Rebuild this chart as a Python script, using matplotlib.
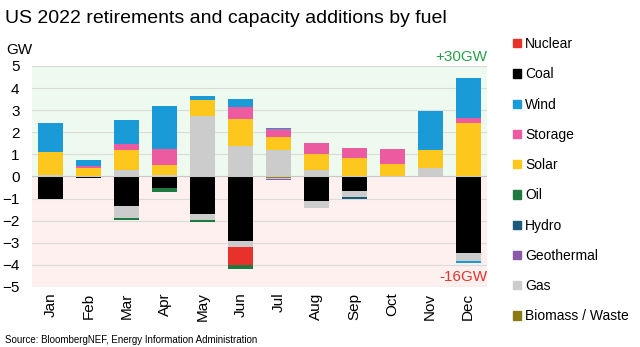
import numpy as np
import matplotlib
matplotlib.use('Agg')
import matplotlib.pyplot as plt
from matplotlib.patches import Rectangle

plt.rcParams['font.family'] = ['Liberation Sans', 'DejaVu Sans']

months = ['Jan', 'Feb', 'Mar', 'Apr', 'May', 'Jun',
          'Jul', 'Aug', 'Sep', 'Oct', 'Nov', 'Dec']

# capacity additions (GW), stacked upward in this order
add_gas     = [0.05, 0.00, 0.27, 0.05, 2.72, 1.40, 1.20, 0.27, 0.00, 0.03, 0.38, 0.00]
add_solar   = [1.05, 0.40, 0.93, 0.45, 0.72, 1.22, 0.60, 0.73, 0.83, 0.53, 0.83, 2.42]
add_storage = [0.00, 0.08, 0.25, 0.75, 0.00, 0.52, 0.36, 0.53, 0.47, 0.68, 0.00, 0.24]
add_wind    = [1.30, 0.25, 1.12, 1.92, 0.22, 0.38, 0.05, 0.00, 0.00, 0.00, 1.74, 1.81]

# retirements (GW), stacked downward in this order
ret_coal    = [-1.00, -0.06, -1.33, -0.50, -1.69, -2.94, 0.00, -1.13, -0.65, 0.00, -0.04, -3.45]
ret_biomass = [0.00, 0.00, 0.00, 0.00, 0.00, 0.00, -0.05, 0.00, 0.00, 0.00, 0.00, 0.00]
ret_gas     = [0.00, 0.00, -0.57, -0.03, -0.30, -0.23, -0.08, -0.29, -0.30, 0.00, 0.00, -0.38]
ret_nuclear = [0.00, 0.00, 0.00, 0.00, 0.00, -0.83, 0.00, 0.00, 0.00, 0.00, 0.00, 0.00]
ret_oil     = [0.00, 0.00, -0.07, -0.17, -0.07, -0.18, 0.00, 0.00, 0.00, 0.00, 0.00, 0.00]
ret_hydro   = [0.00, 0.00, 0.00, 0.00, 0.00, 0.00, 0.00, 0.00, -0.06, 0.00, 0.00, 0.00]
ret_wind    = [0.00, 0.00, 0.00, 0.00, 0.00, 0.00, 0.00, 0.00, 0.00, 0.00, 0.00, -0.09]
ret_geo     = [0.00, 0.00, 0.00, 0.00, 0.00, 0.00, -0.04, 0.00, 0.00, 0.00, 0.00, 0.00]

colors = {
    'Nuclear': '#e8312a',
    'Coal': '#000000',
    'Wind': '#1a9ad6',
    'Storage': '#ec5b9f',
    'Solar': '#fdc71d',
    'Oil': '#1f7a40',
    'Hydro': '#1c5a7c',
    'Geothermal': '#8a5aa8',
    'Gas': '#cccccc',
    'Biomass / Waste': '#8a7a16',
}
legend_order = ['Nuclear', 'Coal', 'Wind', 'Storage', 'Solar', 'Oil',
                'Hydro', 'Geothermal', 'Gas', 'Biomass / Waste']

positive = [('Gas', add_gas), ('Solar', add_solar),
            ('Storage', add_storage), ('Wind', add_wind)]
negative = [('Coal', ret_coal), ('Biomass / Waste', ret_biomass), ('Gas', ret_gas),
            ('Nuclear', ret_nuclear), ('Oil', ret_oil), ('Hydro', ret_hydro),
            ('Wind', ret_wind), ('Geothermal', ret_geo)]

fig = plt.figure(figsize=(6.4, 3.47), dpi=100)
ax = fig.add_axes([0.05, 0.173, 0.711, 0.637])

x = np.arange(len(months))
w = 0.66

# shaded halves: additions above zero, retirements below
ax.axhspan(0, 5, color='#eefaf0', zorder=0, lw=0)
ax.axhspan(-5, 0, color='#fdf0ef', zorder=0, lw=0)
for yv in range(-5, 6):
    ax.axhline(yv, color='#d9dcd9', lw=0.8, zorder=1)

bottom = np.zeros(len(months))
for name, vals in positive:
    vals = np.array(vals)
    ax.bar(x, vals, w, bottom=bottom, color=colors[name], zorder=2, lw=0)
    bottom += vals

bottom = np.zeros(len(months))
for name, vals in negative:
    vals = np.array(vals)
    ax.bar(x, vals, w, bottom=bottom, color=colors[name], zorder=2, lw=0)
    bottom += vals

ax.axhline(0, color='#c8c8c8', lw=0.8, zorder=3)

ax.set_xlim(-0.5, len(months) - 0.5)
ax.set_ylim(-5, 5)
ax.set_yticks(range(-5, 6))
ax.set_xticks(x)
ax.set_xticklabels(months, rotation=90, fontsize=11)
ax.tick_params(axis='y', length=0, pad=9, labelsize=11)
ax.tick_params(axis='x', length=0, pad=4)
for s in ax.spines.values():
    s.set_visible(False)

ax.text(-0.0, 1.07, 'GW', transform=ax.transAxes, ha='right', va='center',
        fontsize=11)
ax.text(1.0, 1.04, '+30GW', transform=ax.transAxes, ha='right', va='center',
        fontsize=11, color='#2aa148')
ax.text(1.0, -4.55, '-16GW', transform=ax.get_yaxis_transform(), ha='right',
        va='center', fontsize=11, color='#e8312a')

fig.text(0.008, 0.948, 'US 2022 retirements and capacity additions by fuel',
         fontsize=14, ha='left', va='center')
fig.text(0.008, 0.02, 'Source: BloombergNEF, Energy Information Administration',
         fontsize=7, ha='left', va='center')

handles = [Rectangle((0, 0), 1, 1, color=colors[n]) for n in legend_order]
fig.legend(handles, legend_order, loc='upper left',
           bbox_to_anchor=(0.802, 0.893), frameon=False, fontsize=10,
           handlelength=0.55, handleheight=0.55, handletextpad=0.3,
           labelspacing=1.17, borderpad=0, borderaxespad=0)

fig.savefig('out.png', dpi=100)
